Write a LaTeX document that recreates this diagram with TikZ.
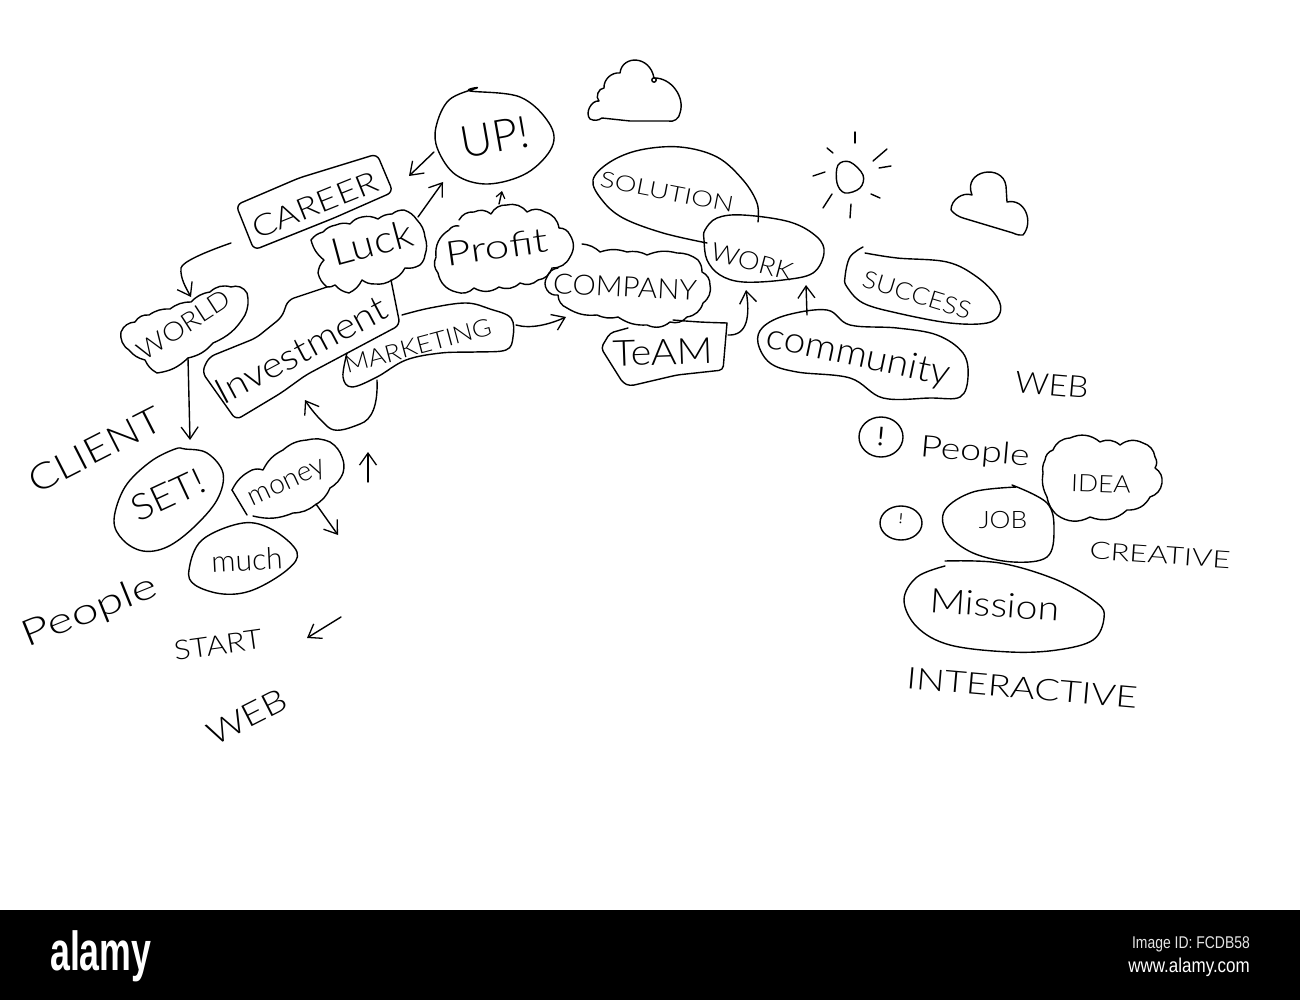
\documentclass[tikz,border=0pt]{standalone}
\usepackage{fontspec}
\newfontfamily\hand{Lato}[UprightFont=* Light,BoldFont=* Regular]
\newfontfamily\barfont{Liberation Sans}
\usetikzlibrary{arrows.meta}
\tikzset{
  ink/.style={draw=black,line width=1.4pt,line cap=round,line join=round},
  arr/.style={ink,-{Straight Barb[length=12pt,width=17pt,line width=1.3pt]}},
  tinyarr/.style={ink,-{Straight Barb[length=6pt,width=9pt,line width=1.2pt]}},
  lab/.style={inner sep=0pt,text=black},
  blob/.style={ink,smooth cycle,tension=.6},
  wave/.style={ink,smooth,tension=.6},
  sc/.style={bend left=32},
  bg/.style={bend left=70},
  wg/.style={bend left=18},
}
\newcommand\lab[7]{\node[lab,rotate=#4,xscale=#6] (#1) at (#2,#3) {\hand\fontsize{#5}{#5}\selectfont #7};}
\begin{document}
\begin{tikzpicture}[x=1pt,y=-1pt]
\useasboundingbox (0,0) rectangle (1300,1000);
\fill[black] (0,910) rectangle (1300,1000);
% ---------- outlines
\draw[blob] plot coordinates {(470,91) (520,97) (549,123) (552,147) (527,173) (488,184) (456,175) (438,150) (436,127) (449,100) (477,88)};
\draw[ink,rounded corners=6pt] (377,154) -- (393,192) -- (334,218) -- (254,250) -- (236,205) -- (299,178) -- cycle;
\draw[ink] (311,240) to[wg] (323,232) to[wg] (336,225) to[wg] (350,224) to[wg] (362,217) to[wg] (378,219) to[wg] (392,214) to[wg] (404,210) to[wg] (417,220) to[wg] (425,237) to[wg] (425,255) to[wg] (420,265) to[wg] (405,268) to[wg] (392,280) to[wg] (375,284) to[wg] (362,280) to[wg] (349,293) to[wg] (335,285) to[wg] (327,287) to[wg] (318,273) to[wg] (324,260) to[wg] (311,240);
\draw[ink,rounded corners=6pt] (327,287) -- (288,300) -- (282,317) -- (256,338) -- (209,357) -- (202,372) -- (236,420) -- (281,393) -- (306,375) -- (400,325) -- (391,280);
\draw[wave] plot coordinates {(402,315) (430,308) (466,303) (490,309) (511,318) (513,337) (506,350) (475,352) (441,353) (406,360) (377,377) (352,387) (343,377) (347,353)};
\draw[ink] (121,332) to[sc] (135,322) to[sc] (149,315) to[wg] (170,309) to[wg] (191,302) to[wg] (210,292) to[bend left=30] (231,287) to[bend left=40] (247,293) to[wg] (245,315) to[wg] (213,343) to[wg] (188,358) to[wg] (157,373) to[wg] (145,360) to[wg] (129,350) to[sc] (121,332);
\draw[ink] (459,220) to[sc] (474,212) to[sc] (491,214) to[sc] (507,205) to[sc] (527,212) to[sc] (545,212) to[sc] (559,228) to[sc] (570,235) to[sc] (570,257) to[sc] (552,268) to[sc] (538,280) to[sc] (520,283) to[sc] (499,287) to[sc] (474,288) to[sc] (456,292) to[sc] (438,273) to[sc] (436,257) to[sc] (449,230) to[sc] (459,226);
\draw[wave] plot coordinates {(707,243) (663,233) (623,218) (602,200) (593,180) (610,162) (640,150) (680,147) (717,157) (743,180) (757,203) (758,222)};
\draw[blob] plot coordinates {(705,230) (717,218) (743,215) (790,222) (817,237) (824,253) (813,273) (783,280) (743,282) (720,275) (707,260) (704,240)};
\draw[ink] (582,244) to[wg] (600,252) to[wg] (627,252) to[wg] (647,255) to[wg] (677,253) to[wg] (698,260) to[wg] (702,272) to[sc] (710,285) to[sc] (703,303) to[sc] (687,317) to[sc] (670,322) to[sc] (647,325) to[wg] (618,317) to[wg] (597,315) to[wg] (567,308) to[sc] (558,295) to[sc] (547,290) to[sc] (547,277) to[sc] (558,268);
\draw[wave] plot coordinates {(673,320) (700,322) (727,323)};
\draw[ink,rounded corners=4pt] (727,323) -- (723,370) -- (677,375) -- (630,386) -- (623,383) -- (601,348) -- (610,333) -- (628,328);
\draw[blob] plot coordinates {(763,327) (787,315) (827,310) (850,325) (897,328) (937,335) (963,353) (968,377) (960,397) (930,398) (883,398) (850,378) (797,372) (770,363) (758,343)};
\draw[wave] plot coordinates {(865,253) (897,258) (947,262) (977,277) (997,297) (1000,313) (987,323) (950,323) (897,313) (863,303) (847,287) (845,277) (850,257) (863,247)};
\draw[blob] plot coordinates {(185,449) (207,453) (223,473) (217,500) (193,528) (167,547) (143,551) (123,540) (114,520) (125,487) (150,462) (175,449)};
\draw[ink] (232,490) to[wg] (252,470) to[wg] (263,470) to[wg] (283,450) to[wg] (307,440) to[wg] (330,442) to[wg] (342,457) to[wg] (343,473) to[wg] (330,488) to[wg] (315,505) to[wg] (293,513) to[wg] (253,516);
\draw[ink] (232,490) -- (247,515);
\draw[blob] plot coordinates {(202,540) (243,523) (273,530) (297,552) (287,570) (253,590) (223,594) (195,585) (189,570)};
\draw[ink] (881,437) ellipse [x radius=22,y radius=20];
\draw[ink] (901,523) ellipse [x radius=21,y radius=17];
\draw[wave] plot coordinates {(1012,485) (1047,503) (1054,530) (1047,557) (1013,562) (973,553) (947,533) (945,510) (973,492) (1017,487)};
\draw[ink] (1045,460) to[sc] (1053,450) to[sc] (1070,438) to[sc] (1100,442) to[sc] (1120,445) to[sc] (1143,443) to[sc] (1155,457) to[sc] (1155,468) to[sc] (1162,483) to[sc] (1150,497) to[sc] (1127,510) to[sc] (1090,517) to[sc] (1057,515) to[wg] (1047,497) to[wg] (1043,473) to[wg] (1045,460);
\draw[wave] plot coordinates {(945,561) (1000,563) (1057,580) (1097,603) (1104,618) (1093,640) (1057,650) (1010,652) (950,645) (917,627) (904,600) (917,577) (945,566)};
% ---------- clouds and sun
\draw[ink] (590,119) to[bg] (599,101) to[bg] (604,88) to[bend left=50] (620,73) .. controls (622,55) and (650,55) .. (654,78) to[bend left=55] (680,113) to[bend left=50] (668,121) -- (630,121) -- (602,118) to[bend left=30] (590,119);
\draw[ink] (654,80) circle [radius=2.2];
\draw[ink] (951,210) to[bend left=55] (972,195) .. controls (962,170) and (1003,163) .. (1006,186) -- (1007,202) .. controls (1025,198) and (1034,222) .. (1023,235) to[bend left=15] (1013,233) -- (963,218) to[bend left=15] (951,210);
\draw[blob] plot coordinates {(838,165) (850,162) (863,175) (860,188) (845,193) (837,183)};
\draw[ink] (855,132) -- (855,143);
\draw[ink] (827,148) -- (833,153);
\draw[ink] (813,176) -- (825,172);
\draw[ink] (823,208) -- (832,194);
\draw[ink] (850,218) -- (851,204);
\draw[ink] (871,194) -- (880,198);
\draw[ink] (879,168) -- (891,166);
\draw[ink] (873,161) -- (887,149);
% ---------- labels
\lab{up}{495}{137}{10}{44}{1}{UP!}
\lab{career}{315}{205}{22}{30}{1.2}{CAREER}
\lab{luck}{372}{243}{15}{38}{1.1}{Luck}
\lab{profit}{497}{247}{8}{34}{1.3}{Profit}
\lab{world}{184}{325}{33}{26}{1.1}{WORLD}
\lab{invest}{301}{350}{28}{36}{1.1}{Investment}
\lab{market}{418}{346}{15}{24}{1.1}{MARKETING}
\lab{company}{625}{287}{-3}{28}{1.05}{COMPANY}
\lab{team}{663}{352}{2}{36}{1.1}{TeAM}
\lab{solution}{667}{192}{-11}{22}{1.25}{SOLUTION}
\lab{work}{752}{262}{-15}{25}{1.1}{WORK}
\lab{success}{917}{295}{-17}{24}{1.1}{SUCCESS}
\lab{community}{858}{357}{-12}{36}{1.08}{community}
\lab{webr}{1052}{385}{-5}{30}{1.1}{WEB}
\lab{peopler}{975}{453}{-5}{30}{1.25}{People}
\node[lab,rotate=-5] (bang) at (881,437) {\hand\bfseries\fontsize{26}{26}\selectfont !};
\node[lab,rotate=-5] (bangb) at (901,519) {\hand\bfseries\fontsize{14}{14}\selectfont !};
\lab{idea}{1101}{484}{-2}{24}{1.1}{IDEA}
\lab{job}{1003}{520}{0}{24}{1.1}{JOB}
\lab{creative}{1160}{555}{-4}{24}{1.3}{CREATIVE}
\lab{mission}{995}{605}{-4}{34}{1.15}{Mission}
\lab{interactive}{1022}{688}{-5}{30}{1.25}{INTERACTIVE}
\lab{client}{95}{450}{27}{36}{1.2}{CLIENT}
\lab{set}{168}{495}{25}{36}{1.1}{SET!}
\lab{money}{288}{485}{25}{28}{1}{money}
\lab{much}{247}{560}{3}{30}{1}{much}
\lab{peoplel}{90}{612}{22}{36}{1.35}{People}
\lab{start}{218}{645}{8}{27}{1.15}{START}
\lab{webl}{247}{717}{27}{32}{1.2}{WEB}
% ---------- connector end points
\coordinate (upW) at (434,152);      \coordinate (careerNE) at (409,176);
\coordinate (luckNE) at (418,217);   \coordinate (upSW) at (443,182);
\coordinate (profitN) at (499,204);  \coordinate (upS) at (502,191);
\coordinate (careerSW) at (231,243); \coordinate (worldN) at (191,297);
\coordinate (worldS) at (188,358);   \coordinate (setN) at (190,440);
\coordinate (marketS) at (377,380);  \coordinate (investS) at (305,400);
\coordinate (marketE) at (516,325);  \coordinate (companyW) at (566,317);
\coordinate (teamE) at (728,335);    \coordinate (workS) at (746,290);
\coordinate (commN) at (807,315);    \coordinate (workSE) at (806,285);
\coordinate (moneyS) at (316,504);   \coordinate (moneyEnd) at (338,535);
\coordinate (freeA) at (368,482);    \coordinate (freeB) at (368,452);
\coordinate (startA) at (341,617);   \coordinate (startB) at (307,638);
% ---------- connectors
\draw[arr] (upW) -- (careerNE);
\draw[arr] (luckNE) -- (upSW);
\draw[tinyarr] (profitN) -- (upS);
\draw[arr] (careerSW) .. controls (205,252) and (182,262) .. (181,268) .. controls (180,278) and (186,288) .. (worldN);
\draw[arr] (worldS) -- (setN);
\draw[arr] (marketS) .. controls (378,405) and (372,420) .. (360,424) .. controls (345,430) and (335,433) .. (328,427) .. controls (318,418) and (310,408) .. (investS);
\draw[arr] (marketE) .. controls (530,329) and (548,325) .. (companyW);
\draw[arr] (teamE) .. controls (748,336) and (750,315) .. (workS);
\draw[arr] (commN) -- (workSE);
\draw[arr] (moneyS) -- (moneyEnd);
\draw[arr] (freeA) -- (freeB);
\draw[arr] (startA) -- (startB);
% ---------- footer bar
\node[inner sep=0pt,anchor=base west,text=white,xscale=.65] (brand) at (50,970) {\barfont\bfseries\fontsize{55}{55}\selectfont alamy};
\node[inner sep=0pt,anchor=base east,text=white!90!black,xscale=.82] (imgid) at (1250,948) {\barfont\fontsize{17}{17}\selectfont Image ID: FCDB58};
\node[inner sep=0pt,anchor=base east,text=white,xscale=.85] (site) at (1250,972) {\barfont\fontsize{20}{20}\selectfont www.alamy.com};
\end{tikzpicture}
\end{document}
